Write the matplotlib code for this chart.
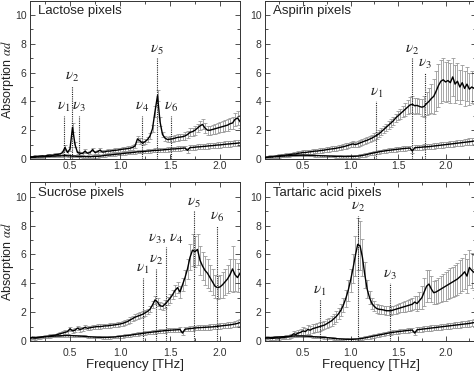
import numpy as np
import matplotlib
matplotlib.use('Agg')
import matplotlib.pyplot as plt
from matplotlib.ticker import MultipleLocator

plt.rcParams['font.family'] = ['Liberation Sans', 'DejaVu Sans']
plt.rcParams['mathtext.fontset'] = 'stix'

# frequency grids start at 0.1 THz, sampled every 0.025 THz
f_start = 0.1
f_step = 0.025

# ---- Lactose (0.1 - 2.2 THz) ----
lactose_sample = [
    0.15, 0.15, 0.18, 0.17, 0.20, 0.22, 0.20, 0.25,
    0.27, 0.25, 0.30, 0.32, 0.35, 0.45, 0.80, 0.45,
    0.70, 2.20, 1.00, 0.45, 0.40, 0.38, 0.55, 0.40,
    0.45, 0.65, 0.45, 0.50, 0.62, 0.48, 0.50, 0.55,
    0.55, 0.58, 0.60, 0.62, 0.65, 0.68, 0.70, 0.72,
    0.75, 0.80, 0.90, 1.40, 1.25, 1.10, 1.20, 1.35,
    1.60, 2.10, 3.30, 4.40, 2.60, 1.70, 1.45, 1.35,
    1.38, 1.40, 1.45, 1.50, 1.52, 1.55, 1.60, 1.70,
    1.85, 1.90, 2.00, 2.15, 2.30, 2.40, 2.15, 2.00,
    2.00, 2.05, 2.10, 2.15, 2.20, 2.25, 2.30, 2.35,
    2.45, 2.50, 2.75, 2.85, 2.60]
lactose_err = [
    0.08, 0.08, 0.08, 0.08, 0.08, 0.08, 0.08, 0.08,
    0.08, 0.08, 0.10, 0.10, 0.10, 0.12, 0.15, 0.12,
    0.15, 0.30, 0.20, 0.12, 0.12, 0.12, 0.12, 0.12,
    0.12, 0.12, 0.12, 0.12, 0.12, 0.12, 0.12, 0.12,
    0.12, 0.12, 0.14, 0.14, 0.14, 0.14, 0.15, 0.15,
    0.15, 0.15, 0.15, 0.20, 0.18, 0.16, 0.16, 0.18,
    0.20, 0.25, 0.35, 0.40, 0.30, 0.20, 0.18, 0.18,
    0.20, 0.20, 0.20, 0.22, 0.22, 0.22, 0.25, 0.25,
    0.28, 0.28, 0.30, 0.30, 0.32, 0.35, 0.32, 0.32,
    0.32, 0.32, 0.35, 0.35, 0.35, 0.38, 0.38, 0.40,
    0.40, 0.42, 0.45, 0.50, 0.45]
lactose_ref = [
    0.10, 0.12, 0.12, 0.14, 0.15, 0.15, 0.17, 0.18,
    0.18, 0.20, 0.20, 0.22, 0.22, 0.22, 0.25, 0.22,
    0.22, 0.20, 0.20, 0.18, 0.18, 0.17, 0.17, 0.16,
    0.16, 0.17, 0.18, 0.18, 0.20, 0.22, 0.25, 0.27,
    0.28, 0.30, 0.32, 0.34, 0.35, 0.38, 0.40, 0.42,
    0.43, 0.45, 0.47, 0.50, 0.50, 0.52, 0.53, 0.55,
    0.56, 0.58, 0.60, 0.60, 0.62, 0.63, 0.65, 0.66,
    0.68, 0.70, 0.70, 0.72, 0.73, 0.75, 0.76, 0.60,
    0.80, 0.80, 0.82, 0.84, 0.85, 0.87, 0.88, 0.90,
    0.92, 0.93, 0.95, 0.97, 0.98, 1.00, 1.02, 1.04,
    1.05, 1.07, 1.08, 1.10, 1.12]

# ---- Aspirin (0.1 - 2.3 THz) ----
aspirin_sample = [
    0.10, 0.12, 0.15, 0.15, 0.18, 0.20, 0.22, 0.25,
    0.25, 0.28, 0.30, 0.32, 0.35, 0.35, 0.40, 0.42,
    0.45, 0.45, 0.48, 0.50, 0.52, 0.55, 0.55, 0.58,
    0.60, 0.62, 0.65, 0.68, 0.70, 0.72, 0.75, 0.78,
    0.82, 0.85, 0.90, 0.95, 1.00, 1.05, 1.00, 1.05,
    1.12, 1.18, 1.25, 1.30, 1.38, 1.45, 1.55, 1.65,
    1.75, 1.90, 2.05, 2.20, 2.35, 2.50, 2.65, 2.85,
    3.00, 3.15, 3.30, 3.45, 3.60, 3.75, 3.80, 3.70,
    3.72, 3.65, 3.60, 3.65, 3.85, 4.00, 4.20, 4.35,
    4.70, 5.10, 5.40, 5.50, 5.35, 5.45, 5.30, 5.70,
    5.20, 5.40, 5.00, 5.30, 4.90, 5.20, 4.85, 5.00,
    4.90]
aspirin_err = [
    0.10, 0.10, 0.10, 0.10, 0.10, 0.10, 0.12, 0.12,
    0.12, 0.12, 0.12, 0.12, 0.14, 0.14, 0.14, 0.14,
    0.15, 0.15, 0.15, 0.15, 0.15, 0.15, 0.15, 0.15,
    0.16, 0.16, 0.16, 0.16, 0.17, 0.17, 0.17, 0.17,
    0.18, 0.18, 0.18, 0.18, 0.20, 0.20, 0.20, 0.20,
    0.20, 0.20, 0.22, 0.22, 0.22, 0.22, 0.24, 0.24,
    0.25, 0.25, 0.26, 0.26, 0.28, 0.28, 0.30, 0.30,
    0.32, 0.35, 0.40, 0.45, 0.50, 0.55, 0.60, 0.55,
    0.50, 0.55, 0.60, 0.70, 0.80, 0.90, 1.00, 1.20,
    1.40, 1.50, 1.50, 1.50, 1.40, 1.40, 1.40, 1.30,
    1.30, 1.30, 1.20, 1.20, 1.20, 1.20, 1.10, 1.10,
    1.10]
aspirin_ref = [
    0.10, 0.12, 0.14, 0.15, 0.16, 0.18, 0.18, 0.20,
    0.20, 0.22, 0.22, 0.24, 0.25, 0.25, 0.26, 0.26,
    0.27, 0.26, 0.26, 0.25, 0.25, 0.24, 0.24, 0.23,
    0.22, 0.22, 0.21, 0.20, 0.20, 0.19, 0.18, 0.18,
    0.18, 0.17, 0.17, 0.18, 0.18, 0.18, 0.19, 0.20,
    0.22, 0.25, 0.28, 0.32, 0.36, 0.40, 0.43, 0.46,
    0.50, 0.53, 0.55, 0.58, 0.60, 0.62, 0.64, 0.66,
    0.68, 0.70, 0.72, 0.74, 0.75, 0.76, 0.55, 0.78,
    0.80, 0.81, 0.82, 0.84, 0.85, 0.86, 0.88, 0.90,
    0.92, 0.94, 0.96, 0.98, 1.00, 1.02, 1.04, 1.06,
    1.08, 1.10, 1.12, 1.14, 1.16, 1.18, 1.20, 1.22,
    1.25]

# ---- Sucrose (0.1 - 2.2 THz) ----
sucrose_sample = [
    0.20, 0.25, 0.20, 0.22, 0.25, 0.28, 0.30, 0.32,
    0.35, 0.38, 0.40, 0.45, 0.50, 0.55, 0.60, 0.65,
    0.85, 0.70, 0.75, 0.90, 0.80, 0.85, 0.95, 0.88,
    0.92, 0.95, 0.98, 1.00, 1.00, 1.02, 1.05, 1.05,
    1.08, 1.10, 1.12, 1.15, 1.18, 1.22, 1.28, 1.35,
    1.45, 1.55, 1.65, 1.72, 1.78, 1.85, 1.95, 2.05,
    2.20, 2.50, 2.85, 2.70, 2.45, 2.40, 2.55, 2.75,
    2.95, 3.20, 3.50, 3.70, 3.40, 3.90, 4.40, 5.00,
    5.80, 6.30, 6.20, 6.35, 5.60, 5.20, 4.90, 4.70,
    4.40, 4.10, 3.80, 3.70, 3.75, 3.90, 4.10, 4.30,
    4.60, 5.00, 4.60, 4.40, 4.70]
sucrose_err = [
    0.10, 0.10, 0.10, 0.10, 0.10, 0.10, 0.10, 0.10,
    0.12, 0.12, 0.12, 0.12, 0.12, 0.12, 0.14, 0.14,
    0.15, 0.15, 0.15, 0.15, 0.15, 0.15, 0.15, 0.15,
    0.15, 0.15, 0.15, 0.15, 0.15, 0.15, 0.15, 0.15,
    0.15, 0.15, 0.16, 0.16, 0.16, 0.16, 0.17, 0.17,
    0.18, 0.18, 0.19, 0.19, 0.20, 0.20, 0.20, 0.20,
    0.22, 0.24, 0.26, 0.26, 0.25, 0.25, 0.26, 0.28,
    0.30, 0.32, 0.35, 0.38, 0.40, 0.45, 0.55, 0.70,
    0.90, 1.10, 1.10, 1.10, 1.00, 1.00, 1.00, 1.00,
    0.90, 0.90, 0.80, 0.80, 0.80, 0.90, 0.90, 1.00,
    1.10, 1.60, 1.10, 1.00, 1.00]
sucrose_ref = [
    0.20, 0.22, 0.24, 0.25, 0.26, 0.28, 0.30, 0.30,
    0.32, 0.33, 0.34, 0.35, 0.36, 0.37, 0.38, 0.38,
    0.38, 0.37, 0.36, 0.35, 0.34, 0.33, 0.32, 0.30,
    0.29, 0.28, 0.27, 0.26, 0.26, 0.25, 0.25, 0.25,
    0.26, 0.27, 0.28, 0.30, 0.32, 0.34, 0.36, 0.38,
    0.40, 0.43, 0.46, 0.48, 0.50, 0.53, 0.55, 0.58,
    0.60, 0.62, 0.64, 0.66, 0.68, 0.70, 0.72, 0.73,
    0.75, 0.76, 0.77, 0.78, 0.80, 0.55, 0.82, 0.84,
    0.86, 0.88, 0.90, 0.92, 0.93, 0.94, 0.95, 0.96,
    0.97, 0.98, 1.00, 1.02, 1.04, 1.06, 1.08, 1.10,
    1.12, 1.15, 1.18, 1.22, 1.28]

# ---- Tartaric acid (0.1 - 2.3 THz) ----
tartaric_sample = [
    0.20, 0.22, 0.20, 0.18, 0.20, 0.22, 0.20, 0.25,
    0.25, 0.28, 0.30, 0.35, 0.50, 0.45, 0.55, 0.60,
    0.70, 0.65, 0.80, 0.75, 0.85, 0.90, 0.95, 1.00,
    1.05, 1.10, 1.20, 1.30, 1.40, 1.55, 1.70, 1.90,
    2.15, 2.50, 2.95, 3.50, 4.20, 5.00, 5.90, 6.70,
    6.60, 5.80, 4.60, 3.60, 3.00, 2.60, 2.40, 2.25,
    2.20, 2.18, 2.15, 2.10, 2.10, 2.10, 2.15, 2.20,
    2.25, 2.30, 2.35, 2.40, 2.45, 2.50, 2.55, 2.70,
    2.60, 2.80, 3.00, 3.40, 3.80, 3.95, 3.60, 3.35,
    3.40, 3.50, 3.60, 3.70, 3.80, 3.90, 4.00, 4.10,
    4.20, 4.30, 4.45, 4.60, 4.80, 4.50, 5.10, 4.90,
    4.75]
tartaric_err = [
    0.10, 0.10, 0.10, 0.10, 0.10, 0.10, 0.12, 0.12,
    0.12, 0.12, 0.15, 0.15, 0.20, 0.20, 0.22, 0.25,
    0.28, 0.28, 0.30, 0.30, 0.30, 0.30, 0.30, 0.30,
    0.30, 0.30, 0.32, 0.32, 0.35, 0.35, 0.38, 0.40,
    0.45, 0.50, 0.60, 0.70, 0.80, 1.00, 1.40, 1.80,
    1.70, 1.30, 0.90, 0.60, 0.45, 0.40, 0.35, 0.32,
    0.30, 0.30, 0.30, 0.30, 0.30, 0.30, 0.30, 0.30,
    0.30, 0.32, 0.34, 0.36, 0.38, 0.40, 0.42, 0.45,
    0.50, 0.60, 0.80, 1.00, 1.10, 1.00, 0.90, 0.80,
    0.80, 0.85, 0.90, 0.95, 1.00, 1.00, 1.05, 1.05,
    1.10, 1.10, 1.15, 1.15, 1.20, 1.20, 1.20, 1.20,
    1.20]
tartaric_ref = [
    0.20, 0.22, 0.24, 0.25, 0.26, 0.27, 0.28, 0.29,
    0.30, 0.31, 0.32, 0.33, 0.34, 0.35, 0.35, 0.35,
    0.35, 0.34, 0.33, 0.32, 0.30, 0.29, 0.28, 0.27,
    0.26, 0.25, 0.23, 0.22, 0.20, 0.18, 0.16, 0.15,
    0.14, 0.13, 0.12, 0.12, 0.11, 0.12, 0.13, 0.14,
    0.16, 0.18, 0.22, 0.25, 0.28, 0.32, 0.35, 0.38,
    0.42, 0.45, 0.48, 0.52, 0.55, 0.58, 0.60, 0.63,
    0.65, 0.67, 0.69, 0.71, 0.73, 0.75, 0.76, 0.55,
    0.78, 0.80, 0.82, 0.84, 0.86, 0.88, 0.90, 0.92,
    0.94, 0.96, 0.98, 1.00, 1.02, 1.04, 1.06, 1.08,
    1.10, 1.12, 1.14, 1.16, 1.18, 1.20, 1.22, 1.25,
    1.28]

# error of the reference (lower) curve, shared by all panels
ref_err = [
    0.06, 0.06, 0.06, 0.06, 0.06, 0.06, 0.06, 0.06,
    0.06, 0.06, 0.06, 0.06, 0.07, 0.07, 0.07, 0.07,
    0.07, 0.07, 0.07, 0.07, 0.07, 0.07, 0.07, 0.07,
    0.08, 0.08, 0.08, 0.08, 0.08, 0.08, 0.08, 0.08,
    0.09, 0.09, 0.09, 0.09, 0.10, 0.10, 0.10, 0.10,
    0.10, 0.10, 0.11, 0.11, 0.11, 0.11, 0.12, 0.12,
    0.12, 0.12, 0.13, 0.13, 0.13, 0.13, 0.14, 0.14,
    0.14, 0.14, 0.15, 0.15, 0.15, 0.15, 0.16, 0.16,
    0.16, 0.16, 0.17, 0.17, 0.17, 0.17, 0.18, 0.18,
    0.18, 0.18, 0.19, 0.19, 0.19, 0.19, 0.20, 0.20,
    0.20, 0.20, 0.21, 0.21, 0.22, 0.22, 0.23, 0.23,
    0.24]

# absorption mode positions (THz), top of dotted marker, label
lactose_modes = [0.44, 0.52, 0.59, 1.22, 1.37, 1.51]
lactose_tops = [3.0, 5.1, 3.0, 3.0, 7.0, 3.0]
lactose_labels = [r'$\nu_1$', r'$\nu_2$', r'$\nu_3$', r'$\nu_4$', r'$\nu_5$', r'$\nu_6$']

aspirin_modes = [1.27, 1.645, 1.78]
aspirin_tops = [4.0, 7.0, 6.0]
aspirin_labels = [r'$\nu_1$', r'$\nu_2$', r'$\nu_3$']

sucrose_modes = [1.23, 1.36, 1.46, 1.74, 1.97]
sucrose_tops = [4.4, 5.0, 6.5, 9.0, 8.0]
sucrose_labels = [r'$\nu_1$', r'$\nu_2$', r'$\nu_3$, $\nu_4$', r'$\nu_5$', r'$\nu_6$']

tartaric_modes = [0.68, 1.08, 1.41]
tartaric_tops = [2.9, 8.7, 4.0]
tartaric_labels = [r'$\nu_1$', r'$\nu_2$', r'$\nu_3$']

W, H = 474, 372
fig = plt.figure(figsize=(W / 100, H / 100), dpi=100)

def px_axes(x0, y_top, x1, y_bot):
    return fig.add_axes([x0 / W, (H - y_bot) / H, (x1 - x0) / W, (y_bot - y_top) / H])

tick_col = '#333333'

def panel(ax, sample, err, ref, modes, tops, labels, title, xmax, xpad):
    f = f_start + f_step * np.arange(len(sample))
    fr = f_start + f_step * np.arange(len(ref))
    ax.errorbar(fr, ref, yerr=ref_err[:len(ref)], fmt='none', ecolor='#999999',
                elinewidth=0.6, capsize=1.3, capthick=0.6, zorder=1)
    ax.errorbar(f, sample, yerr=err, fmt='none', ecolor='#999999',
                elinewidth=0.6, capsize=1.3, capthick=0.6, zorder=1)
    ax.plot(fr, ref, color='black', lw=1.0, zorder=3)
    ax.plot(f, sample, color='black', lw=1.0, zorder=3)
    for m, t, lab in zip(modes, tops, labels):
        ax.plot([m, m], [0, t], color='#222222', lw=0.8, ls=(0, (1, 1)), zorder=2)
        ax.text(m, t + 0.1, lab, ha='center', va='bottom', fontsize=11, color='#222222')
    ax.text(0.04, 0.935, title, transform=ax.transAxes, ha='left', va='center',
            fontsize=9.5, color='#222222')
    ax.set_xlim(0.1, xmax)
    ax.set_ylim(0, 11)
    ax.xaxis.set_major_locator(MultipleLocator(0.5))
    ax.xaxis.set_minor_locator(MultipleLocator(0.25))
    ax.yaxis.set_major_locator(MultipleLocator(2))
    ax.yaxis.set_minor_locator(MultipleLocator(1))
    ax.set_xticks([0.5, 1.0, 1.5, 2.0])
    ax.tick_params(which='both', direction='in', top=True, right=True,
                   labelsize=7.5, labelcolor=tick_col, color='#333333', width=0.6)
    ax.tick_params(which='major', length=3.5)
    ax.tick_params(which='minor', length=2)
    ax.tick_params(axis='x', pad=xpad)
    ax.tick_params(axis='y', pad=2.5)
    for s in ax.spines.values():
        s.set_linewidth(0.7)
        s.set_color('#333333')

ax_tl = px_axes(30, 0.6, 240, 159)
ax_tr = px_axes(265, 0.6, 476, 159)
ax_bl = px_axes(30, 182.4, 240, 341)
ax_br = px_axes(265, 182.4, 476, 341)

panel(ax_tl, lactose_sample, lactose_err, lactose_ref, lactose_modes, lactose_tops,
      lactose_labels, 'Lactose pixels', 2.2, 1.5)
panel(ax_tr, aspirin_sample, aspirin_err, aspirin_ref, aspirin_modes, aspirin_tops,
      aspirin_labels, 'Aspirin pixels', 2.32, 1.5)
panel(ax_bl, sucrose_sample, sucrose_err, sucrose_ref, sucrose_modes, sucrose_tops,
      sucrose_labels, 'Sucrose pixels', 2.2, 5)
panel(ax_br, tartaric_sample, tartaric_err, tartaric_ref, tartaric_modes, tartaric_tops,
      tartaric_labels, 'Tartaric acid pixels', 2.32, 5)

for ax in (ax_tl, ax_bl):
    ax.set_ylabel(r'Absorption $\alpha d$', fontsize=9, color='#222222')
    ax.yaxis.set_label_coords(-0.068, 0.5)
for ax in (ax_bl, ax_br):
    ax.set_xlabel('Frequency [THz]', fontsize=9.5, color='#222222', labelpad=1)

fig.savefig('out.png', dpi=100)
